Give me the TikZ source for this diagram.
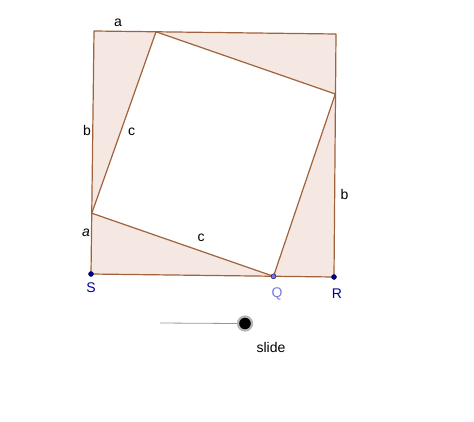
\documentclass[tikz,border=0pt]{standalone}
\usepackage{fontspec}
\setmainfont{Liberation Sans}
\definecolor{edge}{RGB}{160,98,60}
\definecolor{tri}{RGB}{245,232,227}
\definecolor{ptblue}{RGB}{0,0,150}
\definecolor{qblue}{RGB}{120,120,225}
\definecolor{slidegray}{RGB}{150,150,150}
\tikzset{
  lbl/.style={font=\fontsize{14}{16}\selectfont, text=black, inner sep=0pt},
  ptlbl/.style={font=\fontsize{14}{16}\selectfont, text=ptblue, inner sep=0pt},
  side/.style={draw=edge, line width=1.2pt, line join=round},
  dot/.style={circle, fill=ptblue, draw=ptblue!60!black, inner sep=0pt, minimum size=5pt},
  qdot/.style={circle, fill=qblue, draw=ptblue!70!black, inner sep=0pt, minimum size=5pt}
}
\begin{document}
\begin{tikzpicture}[x=1pt,y=-1pt]
\useasboundingbox (0,0) rectangle (474,421);
% outer square corners
\coordinate (S) at (91,274);
\coordinate (R) at (334,277);
\coordinate (T) at (336,34);
\coordinate (U) at (94,31);
% inner square corners
\coordinate (P1) at (91.8,213.2);
\coordinate (Q) at (273.5,276.3);
\coordinate (P3) at (335.3,94);
\coordinate (P4) at (156,31.8);
% fills
\fill[tri] (S) -- (R) -- (T) -- (U) -- cycle;
\fill[white] (P1) -- (Q) -- (P3) -- (P4) -- cycle;
% edges
\draw[side] (S) -- (R) -- (T) -- (U) -- cycle;
\draw[side] (P1) -- (Q) -- (P3) -- (P4) -- cycle;
% side labels
\node[lbl] (la1) at (118,23) {a};
\node[lbl] (lb1) at (87,130) {b};
\node[lbl] (lc1) at (131.5,132) {c};
\node[lbl] (la2) at (86,232.5) {\textit{a}};
\node[lbl] (lc2) at (201,238) {c};
\node[lbl] (lb2) at (344.5,194) {b};
% points
\node[dot] (Sd) at (S) {};
\node[dot] (Rd) at (R) {};
\node[qdot] (Qd) at (Q) {};
\node[ptlbl] (Sl) at (91,288) {S};
\node[ptlbl, text=qblue] (Ql) at (277,293.5) {Q};
\node[ptlbl] (Rl) at (337,293.5) {R};
% slider
\coordinate (s0) at (160,323);
\node[circle, fill=black, draw=slidegray!70, line width=2.2pt, inner sep=0pt, minimum size=14pt] (knob) at (245,323.5) {};
\draw[slidegray, line width=0.8pt] (s0) -- (knob.west);
\node[lbl] (sl) at (271,347.5) {slide};
\end{tikzpicture}
\end{document}
